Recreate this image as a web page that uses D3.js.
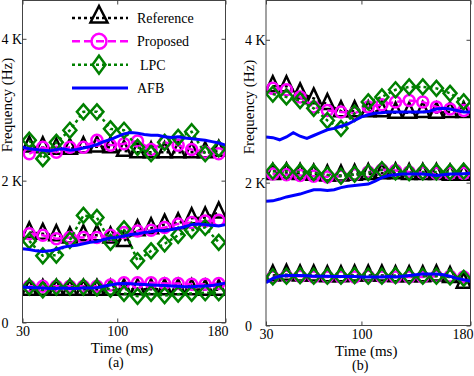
<!DOCTYPE html>
<html>
<head>
<meta charset="utf-8">
<script src="https://cdn.jsdelivr.net/npm/d3@7"></script>
<style>
  body { margin: 0; background: #fff; }
  svg text { font-family: "Liberation Serif", "Times New Roman", serif; fill: #000; }
</style>
</head>
<body>
<script>
// time axes (ms)
const markerTimes = [35, 45, 55, 65, 75, 85, 95, 105, 115, 125, 135, 145, 155, 165, 175];
const afbTimes = [30, 35, 40, 45, 50, 55, 60, 65, 70, 75, 80, 85, 90, 95, 100, 105,
  110, 115, 120, 125, 130, 135, 140, 145, 150, 155, 160, 165, 170, 175, 180];
const xTicks = [30, 100, 180];
const yTicks = [0, 2000, 4000];
const yTickLabels = ["0", "2 K", "4 K"];
const seriesNames = ["Reference", "Proposed", "LPC", "AFB"];

// ---- panel (a) ----
const refA1 = [460, 460, 460, 460, 460, 460, 460, 470, 470, 470, 470, 470, 470, 460, 460];
const propA1 = [510, 510, 510, 510, 510, 510, 530, 560, 560, 560, 550, 550, 540, 540, 550];
const lpcA1 = [500, 460, 500, 500, 500, 490, 470, 410, 370, 410, 380, 400, 410, 420, 420];
const afbA1 = [500, 495, 490, 485, 480, 480, 485, 480, 480, 485, 485, 490, 510, 530, 545, 550,
  545, 540, 535, 530, 525, 520, 515, 510, 505, 505, 510, 515, 520, 540, 555];

const refA2 = [1270, 1250, 1230, 1200, 1230, 1230, 1200, 1150, 1300, 1330, 1380, 1400, 1470, 1480, 1550];
const propA2 = [1250, 1230, 1180, 1200, 1200, 1200, 1230, 1270, 1290, 1300, 1340, 1390, 1410, 1430, 1440];
const lpcA2 = [1150, 940, 950, 1160, 1510, 1480, 1130, 1320, 870, 1010, 1110, 1230, 1300, 1340, 1130];
const afbA2 = [1040, 1030, 1010, 1000, 1010, 1030, 1060, 1080, 1090, 1110, 1130, 1140, 1170, 1190, 1200, 1220,
  1240, 1250, 1270, 1280, 1300, 1290, 1310, 1330, 1350, 1380, 1390, 1380, 1370, 1360, 1380];

const refA3 = [2480, 2470, 2450, 2450, 2470, 2480, 2470, 2420, 2400, 2400, 2400, 2400, 2400, 2400, 2420];
const propA3 = [2380, 2470, 2400, 2470, 2470, 2570, 2500, 2520, 2560, 2440, 2540, 2500, 2440, 2400, 2380];
const lpcA3 = [2570, 2310, 2540, 2710, 2970, 2970, 2730, 2710, 2470, 2380, 2540, 2610, 2690, 2380, 2450];
const afbA3 = [2470, 2450, 2440, 2430, 2420, 2440, 2450, 2430, 2440, 2460, 2480, 2510, 2550, 2580, 2620, 2660,
  2680, 2670, 2650, 2640, 2640, 2620, 2610, 2620, 2600, 2590, 2580, 2570, 2550, 2530, 2500];

// ---- panel (b) ----
const refB1 = [700, 710, 700, 700, 690, 690, 700, 700, 700, 690, 690, 690, 700, 680, 600];
const propB1 = [680, 690, 690, 680, 680, 680, 680, 690, 680, 680, 680, 680, 690, 690, 680];
const lpcB1 = [680, 690, 700, 690, 690, 690, 700, 690, 690, 700, 690, 690, 690, 680, 660];
const afbB1 = [600, 660, 690, 700, 700, 700, 695, 690, 690, 690, 685, 685, 685, 685, 680, 680,
  680, 680, 685, 680, 690, 700, 710, 720, 720, 720, 710, 690, 660, 640, 620];

const refB2 = [2120, 2130, 2120, 2110, 2100, 2100, 2110, 2120, 2130, 2130, 2120, 2120, 2120, 2110, 2110];
const propB2 = [2120, 2110, 2100, 2090, 2080, 2090, 2110, 2150, 2180, 2170, 2150, 2140, 2130, 2130, 2130];
const lpcB2 = [2160, 2160, 2150, 2140, 2110, 2090, 2120, 2140, 2180, 2150, 2140, 2150, 2150, 2150, 2160];
const afbB2 = [1740, 1745, 1770, 1800, 1820, 1840, 1870, 1900, 1900, 1890, 1900, 1930, 1950, 1960, 1970, 1980,
  2020, 2070, 2100, 2110, 2120, 2120, 2120, 2120, 2110, 2100, 2110, 2120, 2120, 2125, 2130];

const refB3 = [3350, 3350, 3250, 3180, 3100, 3000, 3000, 3000, 3000, 2980, 2980, 2990, 2980, 2990, 2990];
const propB3 = [3320, 3300, 3200, 3060, 3010, 2990, 2970, 3060, 3090, 3130, 3150, 3130, 3060, 3030, 3010];
const lpcB3 = [3240, 3200, 3150, 3040, 2870, 2760, 2970, 3130, 3200, 3300, 3340, 3340, 3320, 3250, 3130];
const afbB3 = [2640, 2630, 2600, 2640, 2700, 2650, 2620, 2660, 2700, 2740, 2760, 2790, 2820, 2870, 2920, 2950,
  2970, 2980, 2990, 2990, 2990, 2990, 2990, 2990, 3000, 3030, 3040, 3030, 3010, 2990, 2990];

const width = 474, height = 376;

const styles = {
  Reference: { color: "#000000", dash: "3,3", marker: "M0,-10L7,5L-7,5Z", legendMarker: "M0,-12L8.5,4.5L-8.5,4.5Z" },
  Proposed: { color: "#ff00ff", dash: "8,4", marker: "circle", legendMarker: "circle" },
  LPC: { color: "#008000", dash: "3,3", marker: "M0,-7.5L6.5,0L0,7.5L-6.5,0Z", legendMarker: "M0,-9L6.5,0L0,9L-6.5,0Z" },
  AFB: { color: "#0000ff", dash: null, marker: null }
};

const svg = d3.select("body").append("svg")
  .attr("width", width)
  .attr("height", height);

function drawPanel(p) {
  const x = d3.scaleLinear().domain([30, 180]).range([p.left, p.right]);
  const y = d3.scaleLinear().domain([0, p.yMax]).range([p.bottom, p.top]);
  const g = svg.append("g");

  g.append("clipPath").attr("id", p.id + "clip")
    .append("rect")
      .attr("x", p.left).attr("y", p.top)
      .attr("width", p.right - p.left).attr("height", p.bottom - p.top);

  const plot = g.append("g").attr("clip-path", `url(#${p.id}clip)`);
  const line = d3.line().x(d => x(d[0])).y(d => y(d[1]));

  p.formants.forEach(f => {
    seriesNames.forEach(name => {
      const st = styles[name];
      const times = name === "AFB" ? afbTimes : markerTimes;
      const pts = times.map((t, i) => [t, f[name][i]]);
      plot.append("path")
        .datum(pts)
        .attr("d", line)
        .attr("fill", "none")
        .attr("stroke", st.color)
        .attr("stroke-width", name === "AFB" ? 3 : 2.5)
        .attr("stroke-dasharray", st.dash);
      if (st.marker === "circle") {
        plot.selectAll(null).data(pts).enter().append("circle")
          .attr("cx", d => x(d[0])).attr("cy", d => y(d[1])).attr("r", 5.5)
          .attr("fill", "none").attr("stroke", st.color).attr("stroke-width", 2.5);
      } else if (st.marker) {
        plot.selectAll(null).data(pts).enter().append("path")
          .attr("d", st.marker)
          .attr("transform", d => `translate(${x(d[0])},${y(d[1])})`)
          .attr("fill", "none").attr("stroke", st.color).attr("stroke-width", 2.5);
      }
    });
  });

  // frame
  g.append("rect")
    .attr("x", p.left).attr("y", p.top)
    .attr("width", p.right - p.left).attr("height", p.bottom - p.top)
    .attr("fill", "none").attr("stroke", "#444").attr("stroke-width", 1);

  const styleAxis = a => {
    a.select(".domain").remove();
    a.selectAll(".tick line").attr("stroke", "#444");
    a.attr("font-size", 14).attr("font-family", null);
  };

  g.append("g")
    .attr("transform", `translate(0,${p.bottom})`)
    .call(d3.axisBottom(x).tickValues(xTicks).tickSize(-4).tickPadding(4).tickFormat(d3.format("d")))
    .call(styleAxis)
    .selectAll(".tick text")
      .attr("dx", d => d === 180 ? -8 : 0);

  g.append("g")
    .attr("transform", `translate(0,${p.top})`)
    .call(d3.axisTop(x).tickValues(xTicks).tickSize(-4).tickFormat(""))
    .call(styleAxis);

  g.append("g")
    .attr("transform", `translate(${p.left},0)`)
    .call(d3.axisLeft(y).tickValues(yTicks).tickSize(-4).tickFormat((d, i) => yTickLabels[i]))
    .call(styleAxis)
    .selectAll(".tick text")
      .attr("text-anchor", "start")
      .attr("x", -21)
      .attr("dy", "0.35em");

  g.append("g")
    .attr("transform", `translate(${p.right},0)`)
    .call(d3.axisRight(y).tickValues(yTicks).tickSize(-4).tickFormat(""))
    .call(styleAxis);

  // axis titles
  g.append("text")
    .attr("transform", `translate(${p.yLabelX},${p.yLabelY}) rotate(-90)`)
    .attr("text-anchor", "middle")
    .attr("font-size", 15)
    .text("Frequency (Hz)");

  const cx = (p.left + p.right) / 2;
  g.append("text")
    .attr("x", cx - 2).attr("y", p.bottom + 30)
    .attr("text-anchor", "middle")
    .attr("font-size", 15)
    .text("Time (ms)");

  g.append("text")
    .attr("x", cx - 8).attr("y", p.bottom + 44)
    .attr("text-anchor", "middle")
    .attr("font-size", 14)
    .text(p.caption);

  return g;
}

drawPanel({
  id: "a", left: 22.5, right: 225.5, top: 0.5, bottom: 322.5, yMax: 4540,
  yLabelX: 11.5, yLabelY: 105, caption: "(a)",
  formants: [
    { Reference: refA1, Proposed: propA1, LPC: lpcA1, AFB: afbA1 },
    { Reference: refA2, Proposed: propA2, LPC: lpcA2, AFB: afbA2 },
    { Reference: refA3, Proposed: propA3, LPC: lpcA3, AFB: afbA3 }
  ]
});

drawPanel({
  id: "b", left: 266, right: 470.5, top: 0.5, bottom: 325.5, yMax: 4550,
  yLabelX: 254, yLabelY: 107, caption: "(b)",
  formants: [
    { Reference: refB1, Proposed: propB1, LPC: lpcB1, AFB: afbB1 },
    { Reference: refB2, Proposed: propB2, LPC: lpcB2, AFB: afbB2 },
    { Reference: refB3, Proposed: propB3, LPC: lpcB3, AFB: afbB3 }
  ]
});

// legend (inside panel a)
const legend = svg.append("g").attr("id", "legend");
const legendY = d3.scalePoint().domain(seriesNames).range([18, 88]);
seriesNames.forEach(name => {
  const st = styles[name];
  const ly = legendY(name);
  const item = legend.append("g").attr("transform", `translate(0,${ly})`);
  item.append("line")
    .attr("x1", 72).attr("x2", 128)
    .attr("stroke", st.color)
    .attr("stroke-width", name === "AFB" ? 3 : 2.5)
    .attr("stroke-dasharray", st.dash);
  if (st.legendMarker === "circle") {
    item.append("circle").attr("cx", 99).attr("r", 7.5)
      .attr("fill", "none").attr("stroke", st.color).attr("stroke-width", 2.5);
  } else if (st.legendMarker) {
    item.append("path").attr("d", st.legendMarker)
      .attr("transform", "translate(99,0)")
      .attr("fill", "none").attr("stroke", st.color).attr("stroke-width", 2.5);
  }
  item.append("text")
    .attr("x", name === "LPC" ? 140 : 137)
    .attr("dy", "0.35em")
    .attr("font-size", 14)
    .text(name);
});
</script>
</body>
</html>
